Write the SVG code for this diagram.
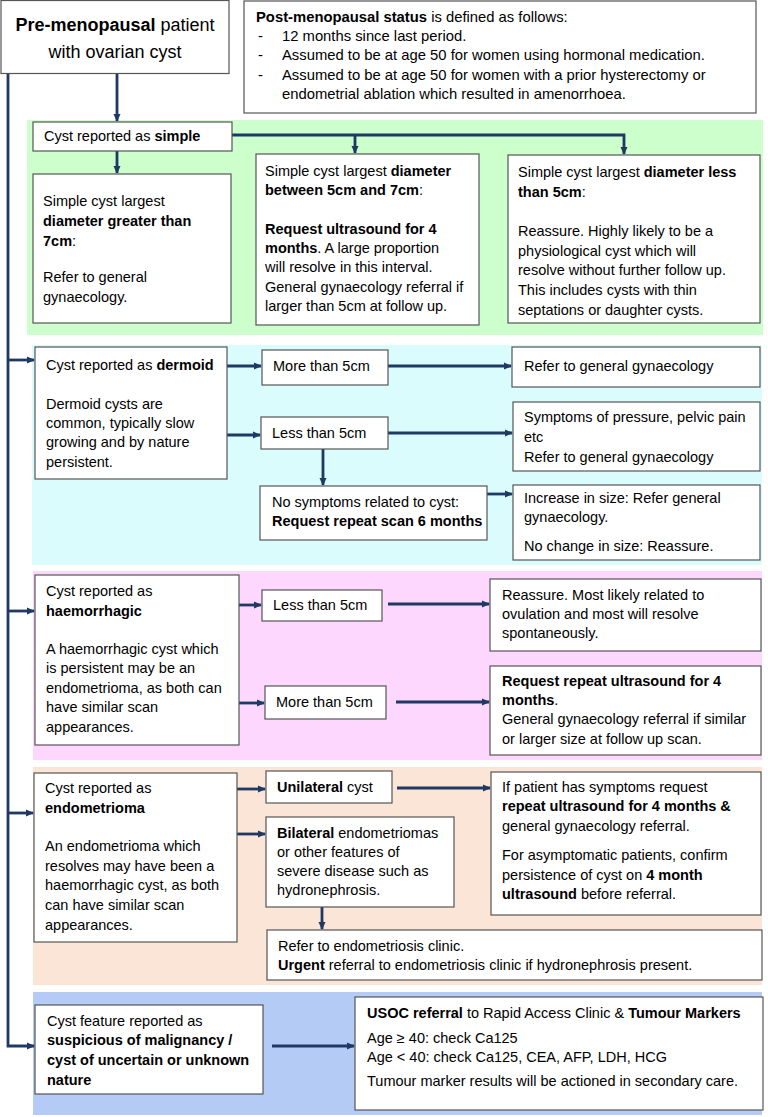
<svg xmlns="http://www.w3.org/2000/svg" width="768" height="1117" viewBox="0 0 768 1117">
<defs>
<style>
.t{font-family:"Liberation Sans",Arial,sans-serif;font-size:14.5px;fill:#000}
.b{font-weight:bold}
.box{fill:#fff;stroke:#555;stroke-width:1.2}
.conn{stroke:#1f3864;stroke-width:2.8;fill:none}
</style>
<marker id="ah" viewBox="0 0 8 8" refX="7" refY="4" markerWidth="8" markerHeight="8" markerUnits="userSpaceOnUse" orient="auto">
<path d="M0,0.5 L8,4 L0,7.5 z" fill="#1f3864"/>
</marker>
</defs>
<rect width="768" height="1117" fill="#fff"/>
<g id="bands">
<rect x="27" y="120" width="736" height="215" fill="#ccffcc"/>
<rect x="32" y="345" width="730" height="220" fill="#dafcfc"/>
<rect x="33" y="571" width="729" height="189" fill="#fdd7fd"/>
<rect x="33" y="767" width="729" height="218" fill="#fbe5d6"/>
<rect x="33" y="992" width="729" height="123" fill="#b4cbf5"/>
</g>
<g id="connectors">
<path class="conn" d="M117,73 V121" marker-end="url(#ah)"/>
<path class="conn" d="M117,151 V173" marker-end="url(#ah)"/>
<path class="conn" d="M232,135 H624 V154" marker-end="url(#ah)"/>
<path class="conn" d="M355,135 V153" marker-end="url(#ah)"/>
<path class="conn" d="M8,73 V1046 H34" marker-end="url(#ah)"/>
<path class="conn" d="M8,360 H34" marker-end="url(#ah)"/>
<path class="conn" d="M8,611 H34" marker-end="url(#ah)"/>
<path class="conn" d="M8,813 H33" marker-end="url(#ah)"/>
<path class="conn" d="M227,366 H261" marker-end="url(#ah)"/>
<path class="conn" d="M388,366 H511" marker-end="url(#ah)"/>
<path class="conn" d="M227,435 H260" marker-end="url(#ah)"/>
<path class="conn" d="M388,433 H512" marker-end="url(#ah)"/>
<path class="conn" d="M323,449 V485" marker-end="url(#ah)"/>
<path class="conn" d="M487,494 H512" marker-end="url(#ah)"/>
<path class="conn" d="M239,605 H261" marker-end="url(#ah)"/>
<path class="conn" d="M388,604 H489" marker-end="url(#ah)"/>
<path class="conn" d="M239,703 H264" marker-end="url(#ah)"/>
<path class="conn" d="M396,702 H489" marker-end="url(#ah)"/>
<path class="conn" d="M237,789 H265" marker-end="url(#ah)"/>
<path class="conn" d="M397,788 H490" marker-end="url(#ah)"/>
<path class="conn" d="M237,834 H265" marker-end="url(#ah)"/>
<path class="conn" d="M322,907 V929" marker-end="url(#ah)"/>
<path class="conn" d="M272,1046 H354" marker-end="url(#ah)"/>
</g>
<g id="n-title">
<rect class="box" x="1" y="0.5" width="228" height="73"/>
<text class="t" x="115" y="31" text-anchor="middle" style="font-size:18px"><tspan class="b">Pre-menopausal</tspan> patient</text>
<text class="t" x="115" y="58" text-anchor="middle" style="font-size:18px">with ovarian cyst</text>
</g>
<g id="n-post">
<rect class="box" x="244" y="1" width="512" height="112"/>
<text class="t" style="font-size:14.8px"><tspan x="256" y="22"><tspan class="b">Post-menopausal status</tspan> is defined as follows:</tspan>
<tspan x="258" y="41">-</tspan><tspan x="282" y="41">12 months since last period.</tspan>
<tspan x="258" y="60">-</tspan><tspan x="282" y="60">Assumed to be at age 50 for women using hormonal medication.</tspan>
<tspan x="258" y="80">-</tspan><tspan x="282" y="80">Assumed to be at age 50 for women with a prior hysterectomy or</tspan>
<tspan x="282" y="99">endometrial ablation which resulted in amenorrhoea.</tspan></text>
</g>
<g id="n-simple">
<rect class="box" x="33" y="122" width="199" height="29"/>
<text class="t" x="44" y="141">Cyst reported as <tspan class="b">simple</tspan></text>
</g>
<g id="n-simple-gt7">
<rect class="box" x="33" y="174" width="198" height="149"/>
<text class="t"><tspan x="43" y="206">Simple cyst largest</tspan><tspan x="43" y="226" class="b">diameter greater than</tspan><tspan x="43" y="246"><tspan class="b">7cm</tspan>:</tspan><tspan x="43" y="282">Refer to general</tspan><tspan x="43" y="302">gynaecology.</tspan></text>
</g>
<g id="n-simple-5to7">
<rect class="box" x="256" y="154" width="223" height="171"/>
<text class="t"><tspan x="265" y="176">Simple cyst largest <tspan class="b">diameter</tspan></tspan><tspan x="265" y="195"><tspan class="b">between 5cm and 7cm</tspan>:</tspan><tspan x="265" y="234" class="b">Request ultrasound for 4</tspan><tspan x="265" y="253"><tspan class="b">months</tspan>. A large proportion</tspan><tspan x="265" y="272">will resolve in this interval.</tspan><tspan x="265" y="292">General gynaecology referral if</tspan><tspan x="265" y="311">larger than 5cm at follow up.</tspan></text>
</g>
<g id="n-simple-lt5">
<rect class="box" x="508" y="155" width="252" height="168"/>
<text class="t"><tspan x="518" y="177">Simple cyst largest <tspan class="b">diameter less</tspan></tspan><tspan x="518" y="197"><tspan class="b">than 5cm</tspan>:</tspan><tspan x="518" y="236">Reassure. Highly likely to be a</tspan><tspan x="518" y="256">physiological cyst which will</tspan><tspan x="518" y="275">resolve without further follow up.</tspan><tspan x="518" y="295">This includes cysts with thin</tspan><tspan x="518" y="315">septations or daughter cysts.</tspan></text>
</g>
<g id="n-dermoid">
<rect class="box" x="35" y="347" width="192" height="132"/>
<text class="t"><tspan x="46" y="370">Cyst reported as <tspan class="b">dermoid</tspan></tspan><tspan x="46" y="409">Dermoid cysts are</tspan><tspan x="46" y="428">common, typically slow</tspan><tspan x="46" y="447">growing and by nature</tspan><tspan x="46" y="467">persistent.</tspan></text>
</g>
<g id="n-d-more">
<rect class="box" x="262" y="350" width="126" height="35"/>
<text class="t" x="273" y="371">More than 5cm</text>
</g>
<g id="n-d-refer">
<rect class="box" x="512" y="347" width="248" height="40"/>
<text class="t" x="524" y="371">Refer to general gynaecology</text>
</g>
<g id="n-d-less">
<rect class="box" x="261" y="417" width="127" height="32"/>
<text class="t" x="272" y="438">Less than 5cm</text>
</g>
<g id="n-d-symptoms">
<rect class="box" x="513" y="402" width="247" height="69"/>
<text class="t"><tspan x="524" y="422">Symptoms of pressure, pelvic pain</tspan><tspan x="524" y="442">etc</tspan><tspan x="524" y="462">Refer to general gynaecology</tspan></text>
</g>
<g id="n-d-nosymptoms">
<rect class="box" x="260" y="486" width="227" height="54"/>
<text class="t"><tspan x="272" y="507">No symptoms related to cyst:</tspan><tspan x="272" y="526" class="b">Request repeat scan 6 months</tspan></text>
</g>
<g id="n-d-increase">
<rect class="box" x="513" y="485" width="247" height="75"/>
<text class="t"><tspan x="524" y="503">Increase in size: Refer general</tspan><tspan x="524" y="522">gynaecology.</tspan><tspan x="524" y="551">No change in size: Reassure.</tspan></text>
</g>
<g id="n-haem">
<rect class="box" x="35" y="575" width="204" height="170"/>
<text class="t"><tspan x="46" y="596">Cyst reported as</tspan><tspan x="46" y="616" class="b">haemorrhagic</tspan><tspan x="46" y="654">A haemorrhagic cyst which</tspan><tspan x="46" y="673">is persistent may be an</tspan><tspan x="46" y="693">endometrioma, as both can</tspan><tspan x="46" y="712">have similar scan</tspan><tspan x="46" y="732">appearances.</tspan></text>
</g>
<g id="n-h-less">
<rect class="box" x="262" y="590" width="120" height="31"/>
<text class="t" x="273" y="610">Less than 5cm</text>
</g>
<g id="n-h-reassure">
<rect class="box" x="490" y="579" width="271" height="72"/>
<text class="t"><tspan x="502" y="600">Reassure. Most likely related to</tspan><tspan x="502" y="619">ovulation and most will resolve</tspan><tspan x="502" y="638">spontaneously.</tspan></text>
</g>
<g id="n-h-more">
<rect class="box" x="265" y="686" width="121" height="33"/>
<text class="t" x="276" y="707">More than 5cm</text>
</g>
<g id="n-h-request">
<rect class="box" x="490" y="666" width="271" height="89"/>
<text class="t"><tspan x="502" y="686" class="b">Request repeat ultrasound for 4</tspan><tspan x="502" y="705"><tspan class="b">months</tspan>.</tspan><tspan x="502" y="724">General gynaecology referral if similar</tspan><tspan x="502" y="744">or larger size at follow up scan.</tspan></text>
</g>
<g id="n-endo">
<rect class="box" x="34" y="773" width="203" height="169"/>
<text class="t"><tspan x="45" y="793">Cyst reported as</tspan><tspan x="45" y="813" class="b">endometrioma</tspan><tspan x="45" y="851">An endometrioma which</tspan><tspan x="45" y="871">resolves may have been a</tspan><tspan x="45" y="890">haemorrhagic cyst, as both</tspan><tspan x="45" y="910">can have similar scan</tspan><tspan x="45" y="930">appearances.</tspan></text>
</g>
<g id="n-e-uni">
<rect class="box" x="266" y="771" width="126" height="32"/>
<text class="t" x="277" y="792"><tspan class="b">Unilateral</tspan> cyst</text>
</g>
<g id="n-e-ifpatient">
<rect class="box" x="491" y="772" width="270" height="143"/>
<text class="t"><tspan x="502" y="792">If patient has symptoms request</tspan><tspan x="502" y="811" class="b">repeat ultrasound for 4 months &amp;</tspan><tspan x="502" y="831">general gynaecology referral.</tspan><tspan x="502" y="860">For asymptomatic patients, confirm</tspan><tspan x="502" y="880">persistence of cyst on <tspan class="b">4 month</tspan></tspan><tspan x="502" y="899"><tspan class="b">ultrasound</tspan> before referral.</tspan></text>
</g>
<g id="n-e-bil">
<rect class="box" x="266" y="817" width="188" height="90"/>
<text class="t"><tspan x="277" y="838"><tspan class="b">Bilateral</tspan> endometriomas</tspan><tspan x="277" y="857">or other features of</tspan><tspan x="277" y="876">severe disease such as</tspan><tspan x="277" y="895">hydronephrosis.</tspan></text>
</g>
<g id="n-e-refer">
<rect class="box" x="267" y="930" width="495" height="50"/>
<text class="t"><tspan x="278" y="951">Refer to endometriosis clinic.</tspan><tspan x="278" y="970"><tspan class="b">Urgent</tspan> referral to endometriosis clinic if hydronephrosis present.</tspan></text>
</g>
<g id="n-malig">
<rect class="box" x="35" y="1005" width="228" height="89"/>
<text class="t"><tspan x="47" y="1026">Cyst feature reported as</tspan><tspan x="47" y="1045" class="b">suspicious of malignancy /</tspan><tspan x="47" y="1065" class="b">cyst of uncertain or unknown</tspan><tspan x="47" y="1085" class="b">nature</tspan></text>
</g>
<g id="n-usoc">
<rect class="box" x="355" y="997" width="408" height="113"/>
<text class="t"><tspan x="367" y="1018"><tspan class="b">USOC referral</tspan> to Rapid Access Clinic &amp; <tspan class="b">Tumour Markers</tspan></tspan><tspan x="367" y="1043">Age ≥ 40: check Ca125</tspan><tspan x="367" y="1062">Age &lt; 40: check Ca125, CEA, AFP, LDH, HCG</tspan><tspan x="367" y="1086">Tumour marker results will be actioned in secondary care.</tspan></text>
</g>
</svg>
